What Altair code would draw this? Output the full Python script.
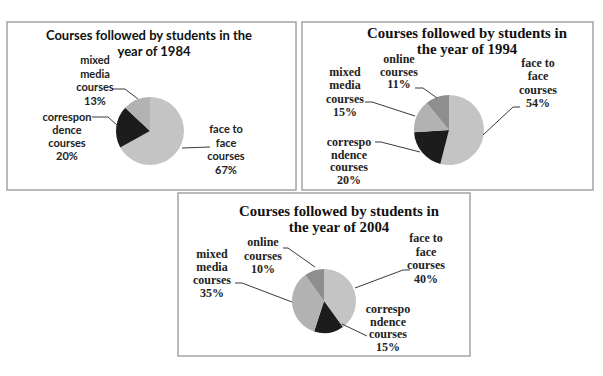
import altair as alt
import pandas as pd

# ---------------- data ----------------
years = ["1984", "1994", "2004"]
courses = ["face to face courses", "correspondence courses",
           "mixed media courses", "online courses"]
share_1984 = [67, 20, 13, None]
share_1994 = [54, 20, 15, 11]
share_2004 = [40, 15, 35, 10]
shares = {"1984": share_1984, "1994": share_1994, "2004": share_2004}

# label text split exactly as in the picture
label_words_1984 = [["face to", "face", "courses"], ["correspon", "dence", "courses"],
                    ["mixed", "media", "courses"], None]
label_words_1994 = [["face to", "face", "courses"], ["correspo", "ndence", "courses"],
                    ["mixed", "media", "courses"], ["online", "courses"]]
label_words_2004 = label_words_1994
label_words = {"1984": label_words_1984, "1994": label_words_1994, "2004": label_words_2004}

title_lines = {
    "1984": ["Courses followed by students in the", "year of 1984"],
    "1994": ["Courses followed by students in", "the year of 1994"],
    "2004": ["Courses followed by students in", "the year of 2004"],
}

# ---------------- layout (pixels) ----------------
boxes = {"1984": (7, 22, 296, 190), "1994": (302, 22, 593, 190), "2004": (178, 193, 470, 356)}
pie_center = {"1984": (150, 131), "1994": (449, 130), "2004": (324, 301)}
pie_radius = {"1984": 34, "1994": 35, "2004": 32}
title_pos = {"1984": [(149, 36), (154, 52)], "1994": [(467, 34), (467, 50)],
             "2004": [(339, 212), (339, 228)]}
# label anchor (x centre, y of first line, line height) per course
label_pos = {
    "1984": [(226, 130, 13.5), (67, 118, 13.0), (95, 61, 13.6), None],
    "1994": [(538, 63, 13.3), (349, 142, 12.7), (345, 72, 13.3), (399, 59, 12.5)],
    "2004": [(426, 238, 13.5), (388, 309, 12.7), (212, 254, 13.0), (263, 242, 13.5)],
}
leaders = {
    "1984": [[(182, 148), (210, 147)], [(92, 117), (108, 117), (118, 126)],
             [(113, 89), (125, 89), (138, 99)], None],
    "1994": [[(483, 135), (513, 107), (520, 107)], [(375, 142), (381, 142), (420, 152)],
             [(365, 102), (372, 102), (415, 116)], [(415, 88), (423, 88), (437, 98)]],
    "2004": [[(355, 288), (403, 270), (410, 270)], [(342, 324), (367, 336)],
             [(235, 283), (242, 283), (292, 302)], [(283, 248), (288, 248), (315, 267)]],
}
fonts = {"1984": "Lato", "1994": "Liberation Serif", "2004": "Liberation Serif"}
title_size = {"1984": 13, "1994": 14.8, "2004": 14.8}
label_size = {"1984": 11, "1994": 12, "2004": 12}
fills = ["#c4c4c4", "#1c1c1c", "#b2b2b2", "#8e8e8e"]

W, H = 603, 376
px = dict(scale=None, axis=None)

layers = []

# boxes
box_df = pd.DataFrame([{"x": b[0], "y": b[1], "x2": b[2], "y2": b[3]} for b in boxes.values()])
layers.append(
    alt.Chart(box_df).mark_rect(fill="white", stroke="#a4a4a4", strokeWidth=1.5).encode(
        x=alt.X("x:Q", **px), x2="x2:Q", y=alt.Y("y:Q", **px), y2="y2:Q")
)

for yr in years:
    rows = []
    for i, c in enumerate(courses):
        v = shares[yr][i]
        if v is None:
            continue
        rows.append({"course": c, "share": v, "rank": i})
    df = pd.DataFrame(rows)
    cx, cy = pie_center[yr]
    layers.append(
        alt.Chart(df).mark_arc(radius=pie_radius[yr]).encode(
            theta=alt.Theta("share:Q", stack=True),
            order=alt.Order("rank:Q"),
            color=alt.Color("course:N", scale=alt.Scale(domain=courses, range=fills), legend=None),
            x=alt.value(cx), y=alt.value(cy),
        )
    )

    # leader lines
    lrows = []
    for i, pts in enumerate(leaders[yr]):
        if pts is None:
            continue
        for k, (x, y) in enumerate(pts):
            lrows.append({"id": i, "k": k, "x": x, "y": y})
    layers.append(
        alt.Chart(pd.DataFrame(lrows)).mark_line(color="#3a3a3a", strokeWidth=1).encode(
            x=alt.X("x:Q", **px), y=alt.Y("y:Q", **px), detail="id:N", order="k:Q")
    )

    # labels
    trows = []
    for i, words in enumerate(label_words[yr]):
        if words is None:
            continue
        lx, ly, lh = label_pos[yr][i]
        lines = words + [f"{shares[yr][i]}%"]
        for k, t in enumerate(lines):
            trows.append({"x": lx, "y": ly + k * lh, "t": t})
    layers.append(
        alt.Chart(pd.DataFrame(trows)).mark_text(
            font=fonts[yr], fontWeight="bold", fontSize=label_size[yr], color="#222222",
            baseline="middle", align="center").encode(
            x=alt.X("x:Q", **px), y=alt.Y("y:Q", **px), text="t:N")
    )

    # title
    ttl = pd.DataFrame([{"x": p[0], "y": p[1], "t": t} for p, t in zip(title_pos[yr], title_lines[yr])])
    layers.append(
        alt.Chart(ttl).mark_text(
            font=fonts[yr], fontWeight="bold", fontSize=title_size[yr], color="#111111",
            baseline="middle", align="center").encode(
            x=alt.X("x:Q", **px), y=alt.Y("y:Q", **px), text="t:N")
    )

chart = alt.layer(*layers).resolve_scale(theta="independent").properties(
    width=W, height=H, autosize=alt.AutoSizeParams(type="none"), padding=0,
    background="white"
).configure_view(stroke=None)

chart.save("out.html", embed_options={"renderer": "svg", "actions": False})
